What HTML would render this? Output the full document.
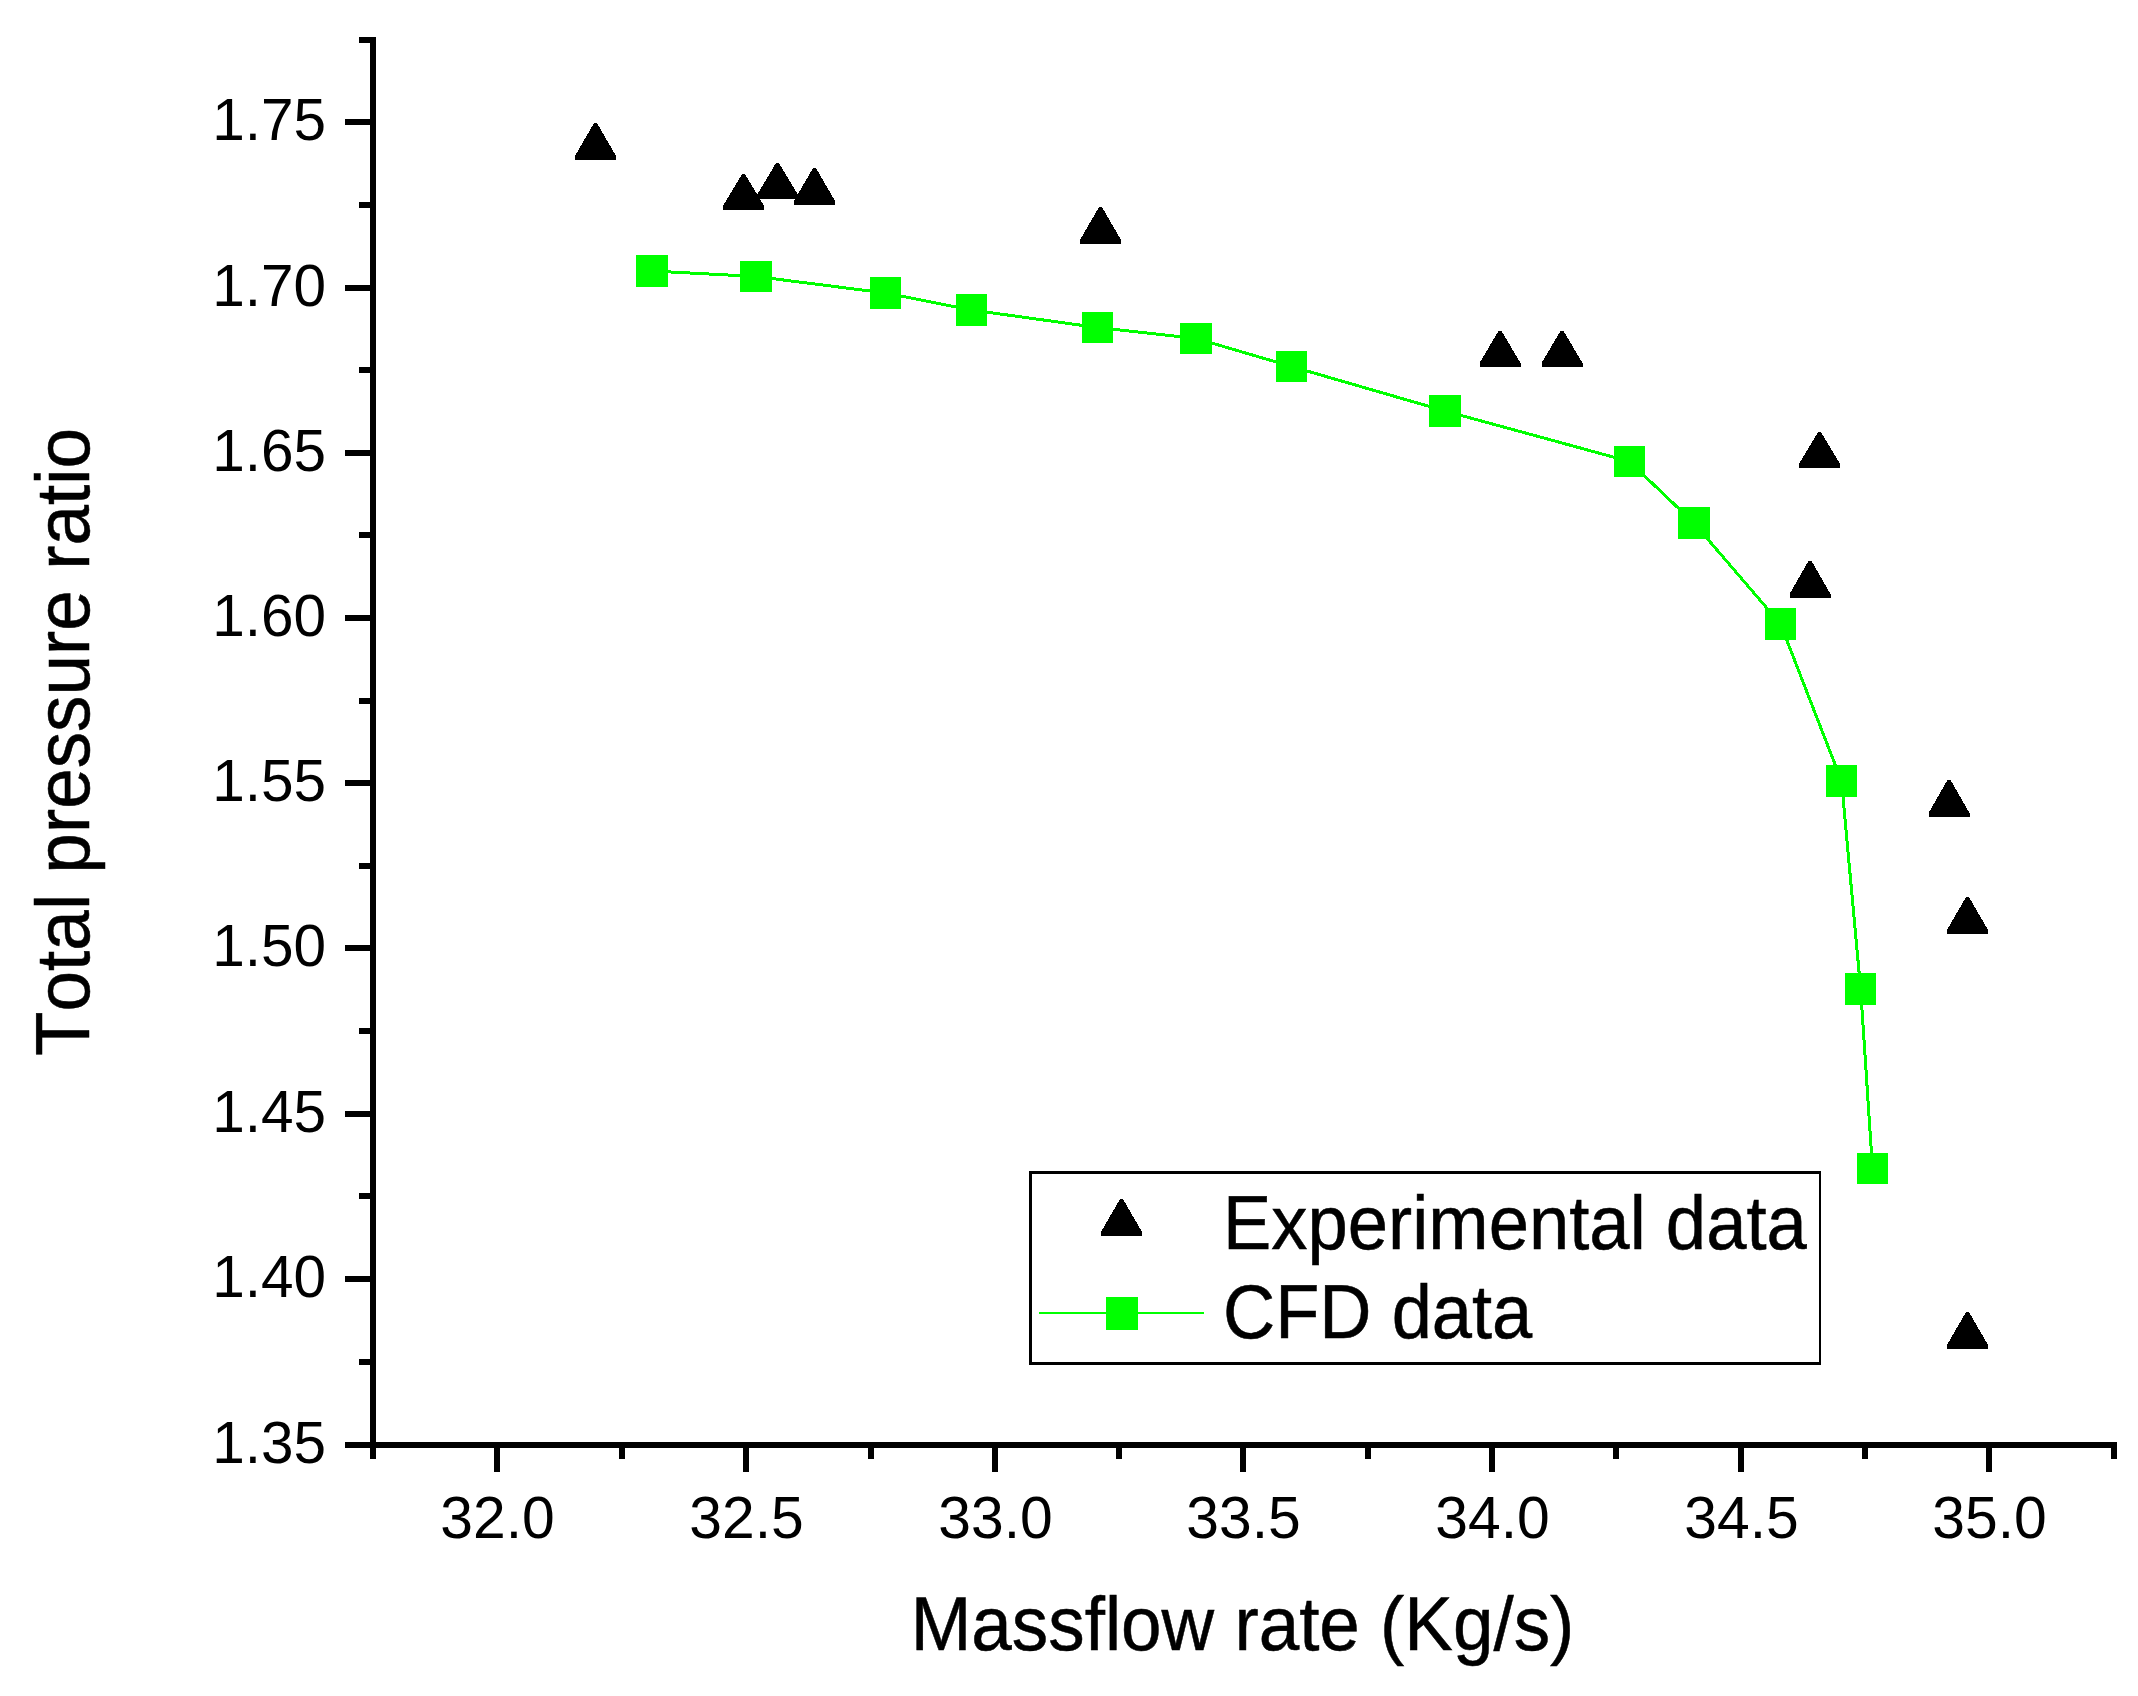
<!DOCTYPE html>
<html><head><meta charset="utf-8"><title>Total pressure ratio</title>
<style>html,body{margin:0;padding:0;background:#fff}svg{display:block}text{font-kerning:none;font-family:"Liberation Sans",Arial,Helvetica,sans-serif;fill:#000}</style></head><body>
<svg width="2138" height="1696" viewBox="0 0 2138 1696">
<rect width="2138" height="1696" fill="#fff"/>
<g fill="#000" shape-rendering="crispEdges">
<rect x="370" y="37" width="6" height="1422"/>
<rect x="345" y="1442" width="1772" height="6"/>
<rect x="345" y="1442" width="25" height="6"/>
<rect x="359" y="1359" width="11" height="6"/>
<rect x="345" y="1276" width="25" height="6"/>
<rect x="359" y="1193" width="11" height="6"/>
<rect x="345" y="1111" width="25" height="6"/>
<rect x="359" y="1028" width="11" height="6"/>
<rect x="345" y="945" width="25" height="6"/>
<rect x="359" y="863" width="11" height="6"/>
<rect x="345" y="780" width="25" height="6"/>
<rect x="359" y="698" width="11" height="6"/>
<rect x="345" y="615" width="25" height="6"/>
<rect x="359" y="532" width="11" height="6"/>
<rect x="345" y="450" width="25" height="6"/>
<rect x="359" y="367" width="11" height="6"/>
<rect x="345" y="285" width="25" height="6"/>
<rect x="359" y="202" width="11" height="6"/>
<rect x="345" y="119" width="25" height="6"/>
<rect x="359" y="37" width="11" height="6"/>
<rect x="370" y="1448" width="6" height="11"/>
<rect x="494" y="1448" width="6" height="24"/>
<rect x="619" y="1448" width="6" height="11"/>
<rect x="743" y="1448" width="6" height="24"/>
<rect x="868" y="1448" width="6" height="11"/>
<rect x="992" y="1448" width="6" height="24"/>
<rect x="1116" y="1448" width="6" height="11"/>
<rect x="1240" y="1448" width="6" height="24"/>
<rect x="1365" y="1448" width="6" height="11"/>
<rect x="1489" y="1448" width="6" height="24"/>
<rect x="1613" y="1448" width="6" height="11"/>
<rect x="1738" y="1448" width="6" height="24"/>
<rect x="1862" y="1448" width="6" height="11"/>
<rect x="1986" y="1448" width="6" height="24"/>
<rect x="2111" y="1448" width="6" height="11"/>
</g>
<g>
<text transform="translate(326,1463) scale(0.975,1)" font-size="60" text-anchor="end">1.35</text>
<text transform="translate(326,1297) scale(0.975,1)" font-size="60" text-anchor="end">1.40</text>
<text transform="translate(326,1132) scale(0.975,1)" font-size="60" text-anchor="end">1.45</text>
<text transform="translate(326,966) scale(0.975,1)" font-size="60" text-anchor="end">1.50</text>
<text transform="translate(326,801) scale(0.975,1)" font-size="60" text-anchor="end">1.55</text>
<text transform="translate(326,636) scale(0.975,1)" font-size="60" text-anchor="end">1.60</text>
<text transform="translate(326,471) scale(0.975,1)" font-size="60" text-anchor="end">1.65</text>
<text transform="translate(326,306) scale(0.975,1)" font-size="60" text-anchor="end">1.70</text>
<text transform="translate(326,140) scale(0.975,1)" font-size="60" text-anchor="end">1.75</text>
<text transform="translate(497.5,1538) scale(0.98,1)" font-size="60" text-anchor="middle">32.0</text>
<text transform="translate(746.5,1538) scale(0.98,1)" font-size="60" text-anchor="middle">32.5</text>
<text transform="translate(995.5,1538) scale(0.98,1)" font-size="60" text-anchor="middle">33.0</text>
<text transform="translate(1243.5,1538) scale(0.98,1)" font-size="60" text-anchor="middle">33.5</text>
<text transform="translate(1492.5,1538) scale(0.98,1)" font-size="60" text-anchor="middle">34.0</text>
<text transform="translate(1741.5,1538) scale(0.98,1)" font-size="60" text-anchor="middle">34.5</text>
<text transform="translate(1989.5,1538) scale(0.98,1)" font-size="60" text-anchor="middle">35.0</text>
</g>
<text transform="translate(1242.5,1650) scale(0.984,1.015)" font-size="74" text-anchor="middle" stroke="#000" stroke-width="0.5">Massflow rate (Kg/s)</text>
<text transform="translate(89,742) rotate(-90) scale(0.985,1.015)" font-size="74" text-anchor="middle" stroke="#000" stroke-width="0.5">Total pressure ratio</text>
<polyline points="652,271 756,276.5 885.5,293 971.5,310 1097.4,327.5 1196,338.4 1291.5,366.5 1445,411 1629.3,461.4 1693.9,523 1780.5,624 1841.5,781 1860.6,988.8 1872.5,1168.3" fill="none" stroke="#00ff00" stroke-width="3" shape-rendering="crispEdges"/>
<g fill="#00ff00" shape-rendering="crispEdges">
<rect x="636" y="255" width="32" height="32"/>
<rect x="740" y="261" width="32" height="31"/>
<rect x="870" y="277" width="31" height="32"/>
<rect x="956" y="294" width="31" height="32"/>
<rect x="1082" y="312" width="31" height="31"/>
<rect x="1180" y="323" width="32" height="31"/>
<rect x="1276" y="351" width="31" height="31"/>
<rect x="1429" y="395" width="32" height="32"/>
<rect x="1614" y="446" width="31" height="31"/>
<rect x="1678" y="507" width="32" height="32"/>
<rect x="1765" y="608" width="31" height="32"/>
<rect x="1826" y="765" width="31" height="32"/>
<rect x="1845" y="973" width="31" height="32"/>
<rect x="1857" y="1153" width="31" height="31"/>
</g>
<g fill="#000" shape-rendering="crispEdges">
<polygon points="594.0,123 597.0,123 616.0,156 616.0,160 575.0,160 575.0,156"/>
<polygon points="742.0,174 745.0,174 764.0,206 764.0,210 723.0,210 723.0,206"/>
<polygon points="776.0,163 779.0,163 798.0,195 798.0,199 757.0,199 757.0,195"/>
<polygon points="813.0,168 816.0,168 835.0,201 835.0,205 794.0,205 794.0,201"/>
<polygon points="1099.0,207 1102.0,207 1121.0,240 1121.0,244 1080.0,244 1080.0,240"/>
<polygon points="1498.5,331 1501.5,331 1520.5,363 1520.5,367 1479.5,367 1479.5,363"/>
<polygon points="1560.5,331 1563.5,331 1582.5,363 1582.5,367 1541.5,367 1541.5,363"/>
<polygon points="1818.0,432 1821.0,432 1840.0,464 1840.0,468 1799.0,468 1799.0,464"/>
<polygon points="1808.5,561 1811.5,561 1830.5,594 1830.5,598 1789.5,598 1789.5,594"/>
<polygon points="1947.5,780 1950.5,780 1969.5,813 1969.5,817 1928.5,817 1928.5,813"/>
<polygon points="1966.0,897 1969.0,897 1988.0,930 1988.0,934 1947.0,934 1947.0,930"/>
<polygon points="1966.0,1312 1969.0,1312 1988.0,1345 1988.0,1349 1947.0,1349 1947.0,1345"/>
<polygon points="1120.0,1199 1123.0,1199 1142.0,1232 1142.0,1236 1101.0,1236 1101.0,1232"/>
</g>
<g fill="#000" shape-rendering="crispEdges"><rect x="1029" y="1171" width="792" height="3"/><rect x="1029" y="1362" width="792" height="3"/><rect x="1029" y="1171" width="3" height="194"/><rect x="1819" y="1171" width="2" height="194"/></g>
<rect x="1039" y="1312" width="165" height="2" fill="#00ff00" shape-rendering="crispEdges"/>
<rect x="1106" y="1297" width="32" height="33" fill="#00ff00" shape-rendering="crispEdges"/>
<text transform="translate(1223,1249) scale(0.979,1.015)" font-size="74" text-anchor="start" stroke="#000" stroke-width="0.5">Experimental data</text>
<text transform="translate(1223,1338) scale(0.977,1.015)" font-size="74" text-anchor="start" stroke="#000" stroke-width="0.5">CFD data</text>
</svg></body></html>
